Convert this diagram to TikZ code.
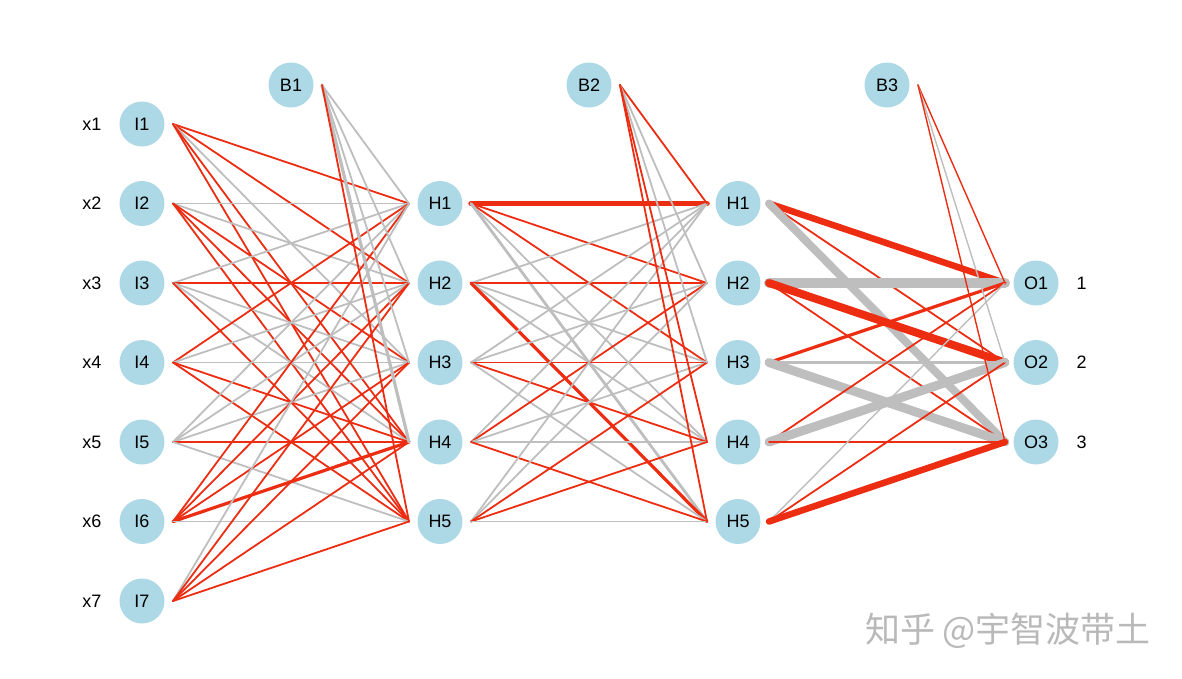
\documentclass[tikz,border=0pt]{standalone}
\usepackage{fontspec}
\setmainfont{Liberation Sans}
\newfontfamily\cjk{Noto Sans CJK SC}
\definecolor{netred}{RGB}{236,45,18}
\definecolor{netgray}{RGB}{190,190,190}
\definecolor{netblue}{RGB}{173,216,230}

\begin{document}
\begin{tikzpicture}[
        x=1pt, y=-1pt,
        neuron_style/.style={circle, fill=netblue, minimum size=45pt, inner sep=0pt, outer sep=8.5pt, font=\fontsize{18}{20}\selectfont},
        pos_style/.style={draw=netred, line width=#1, line cap=round},
        pos_style/.default=1.8pt,
        neg_style/.style={draw=netgray, line width=#1, line cap=round},
        neg_style/.default=1.8pt,
        label distance=6pt,
        every label/.style={font=\fontsize{18}{20}\selectfont}
    ]
        \useasboundingbox (0,0) rectangle (1182,678);

        % Input layer
        \node[neuron_style, label=left:x1] (i1) at (142,124) {I1};
        \node[neuron_style, label=left:x2] (i2) at (142,203.5) {I2};
        \node[neuron_style, label=left:x3] (i3) at (142,283) {I3};
        \node[neuron_style, label=left:x4] (i4) at (142,362.5) {I4};
        \node[neuron_style, label=left:x5] (i5) at (142,442) {I5};
        \node[neuron_style, label=left:x6] (i6) at (142,521.5) {I6};
        \node[neuron_style, label=left:x7] (i7) at (142,601) {I7};

        % First hidden layer
        \node[neuron_style] (h1) at (440,203.5) {H1};
        \node[neuron_style] (h2) at (440,283) {H2};
        \node[neuron_style] (h3) at (440,362.5) {H3};
        \node[neuron_style] (h4) at (440,442) {H4};
        \node[neuron_style] (h5) at (440,521.5) {H5};

        % Second hidden layer
        \node[neuron_style] (k1) at (738,203.5) {H1};
        \node[neuron_style] (k2) at (738,283) {H2};
        \node[neuron_style] (k3) at (738,362.5) {H3};
        \node[neuron_style] (k4) at (738,442) {H4};
        \node[neuron_style] (k5) at (738,521.5) {H5};

        % Output layer
        \node[neuron_style, label=right:1] (o1) at (1036,283) {O1};
        \node[neuron_style, label=right:2] (o2) at (1036,362.5) {O2};
        \node[neuron_style, label=right:3] (o3) at (1036,442) {O3};

        % Bias nodes
        \node[neuron_style] (b1) at (291,85) {B1};
        \node[neuron_style] (b2) at (589,85) {B2};
        \node[neuron_style] (b3) at (887,85) {B3};

        % Input -> first hidden
        \draw[pos_style] (i1.east) -- (h1.west);
        \draw[pos_style] (i1.east) -- (h2.west);
        \draw[neg_style] (i1.east) -- (h3.west);
        \draw[pos_style] (i1.east) -- (h4.west);
        \draw[pos_style] (i1.east) -- (h5.west);

        \draw[neg_style] (i2.east) -- (h1.west);
        \draw[neg_style] (i2.east) -- (h2.west);
        \draw[pos_style] (i2.east) -- (h3.west);
        \draw[pos_style] (i2.east) -- (h4.west);
        \draw[pos_style] (i2.east) -- (h5.west);

        \draw[neg_style] (i3.east) -- (h1.west);
        \draw[pos_style] (i3.east) -- (h2.west);
        \draw[neg_style] (i3.east) -- (h3.west);
        \draw[neg_style] (i3.east) -- (h4.west);
        \draw[pos_style] (i3.east) -- (h5.west);

        \draw[pos_style] (i4.east) -- (h1.west);
        \draw[neg_style] (i4.east) -- (h2.west);
        \draw[neg_style] (i4.east) -- (h3.west);
        \draw[pos_style] (i4.east) -- (h4.west);
        \draw[pos_style] (i4.east) -- (h5.west);

        \draw[neg_style] (i5.east) -- (h1.west);
        \draw[neg_style] (i5.east) -- (h2.west);
        \draw[neg_style] (i5.east) -- (h3.west);
        \draw[pos_style] (i5.east) -- (h4.west);
        \draw[neg_style] (i5.east) -- (h5.west);

        \draw[pos_style] (i6.east) -- (h1.west);
        \draw[pos_style] (i6.east) -- (h2.west);
        \draw[pos_style] (i6.east) -- (h3.west);
        \draw[pos_style=3.2pt] (i6.east) -- (h4.west);
        \draw[neg_style] (i6.east) -- (h5.west);

        \draw[neg_style] (i7.east) -- (h1.west);
        \draw[pos_style] (i7.east) -- (h2.west);
        \draw[pos_style] (i7.east) -- (h3.west);
        \draw[pos_style] (i7.east) -- (h4.west);
        \draw[pos_style] (i7.east) -- (h5.west);

        \draw[neg_style] (b1.east) -- (h1.west);
        \draw[neg_style] (b1.east) -- (h2.west);
        \draw[neg_style] (b1.east) -- (h3.west);
        \draw[neg_style=3.2pt] (b1.east) -- (h4.west);
        \draw[pos_style] (b1.east) -- (h5.west);

        % First hidden -> second hidden
        \draw[pos_style=5.5pt] (h1.east) -- (k1.west);
        \draw[pos_style] (h1.east) -- (k2.west);
        \draw[pos_style] (h1.east) -- (k3.west);
        \draw[neg_style] (h1.east) -- (k4.west);
        \draw[neg_style=2.8pt] (h1.east) -- (k5.west);

        \draw[neg_style] (h2.east) -- (k1.west);
        \draw[pos_style] (h2.east) -- (k2.west);
        \draw[neg_style] (h2.east) -- (k3.west);
        \draw[neg_style] (h2.east) -- (k4.west);
        \draw[pos_style=3.2pt] (h2.east) -- (k5.west);

        \draw[neg_style] (h3.east) -- (k1.west);
        \draw[neg_style] (h3.east) -- (k2.west);
        \draw[pos_style] (h3.east) -- (k3.west);
        \draw[pos_style] (h3.east) -- (k4.west);
        \draw[neg_style] (h3.east) -- (k5.west);

        \draw[neg_style] (h4.east) -- (k1.west);
        \draw[pos_style] (h4.east) -- (k2.west);
        \draw[neg_style] (h4.east) -- (k3.west);
        \draw[neg_style] (h4.east) -- (k4.west);
        \draw[pos_style] (h4.east) -- (k5.west);

        \draw[neg_style] (h5.east) -- (k1.west);
        \draw[neg_style] (h5.east) -- (k2.west);
        \draw[pos_style] (h5.east) -- (k3.west);
        \draw[pos_style] (h5.east) -- (k4.west);
        \draw[neg_style] (h5.east) -- (k5.west);

        \draw[pos_style] (b2.east) -- (k1.west);
        \draw[neg_style] (b2.east) -- (k2.west);
        \draw[neg_style] (b2.east) -- (k3.west);
        \draw[pos_style] (b2.east) -- (k4.west);
        \draw[pos_style] (b2.east) -- (k5.west);

        % Second hidden -> output
        \draw[pos_style=6.5pt] (k1.east) -- (o1.west);
        \draw[pos_style] (k1.east) -- (o2.west);
        \draw[neg_style=8pt] (k1.east) -- (o3.west);

        \draw[neg_style=10pt] (k2.east) -- (o1.west);
        \draw[pos_style=8pt] (k2.east) -- (o2.west);
        \draw[pos_style] (k2.east) -- (o3.west);

        \draw[pos_style=3.2pt] (k3.east) -- (o1.west);
        \draw[neg_style=2.2pt] (k3.east) -- (o2.west);
        \draw[neg_style=9pt] (k3.east) -- (o3.west);

        \draw[pos_style] (k4.east) -- (o1.west);
        \draw[neg_style=9pt] (k4.east) -- (o2.west);
        \draw[pos_style] (k4.east) -- (o3.west);

        \draw[neg_style=1.4pt] (k5.east) -- (o1.west);
        \draw[pos_style] (k5.east) -- (o2.west);
        \draw[pos_style=6.5pt] (k5.east) -- (o3.west);

        \draw[pos_style=1.4pt] (b3.east) -- (o1.west);
        \draw[neg_style=1.4pt] (b3.east) -- (o2.west);
        \draw[pos_style=1.4pt] (b3.east) -- (o3.west);

        % Watermark
        \node[text=gray!55, font=\cjk\fontsize{35}{38}\selectfont] (mark) at (1008,631) {知乎 @宇智波带土};
    \end{tikzpicture}
\end{document}
